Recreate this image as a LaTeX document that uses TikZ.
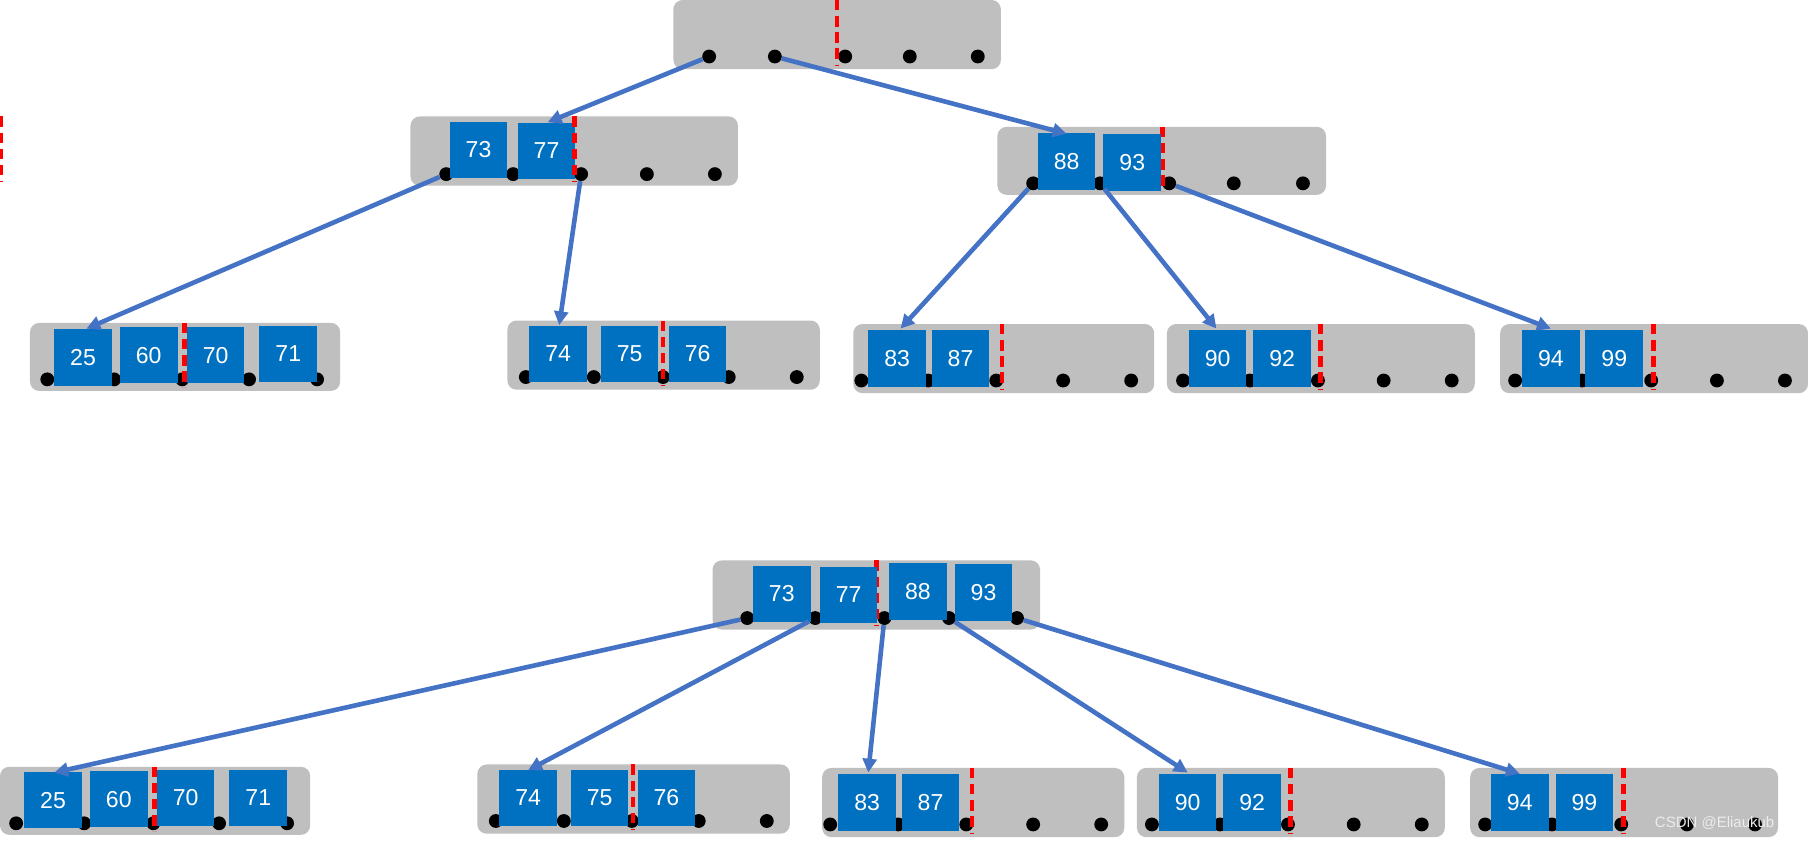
\documentclass[tikz,border=0pt]{standalone}
\usepackage{fontspec}
\setmainfont{Liberation Sans}
\usetikzlibrary{arrows.meta}
\definecolor{gbg}{HTML}{BFBFBF}
\definecolor{kb}{HTML}{0070C0}
\definecolor{ar}{HTML}{4472C4}
\begin{document}
\begin{tikzpicture}[x=1pt,y=-1pt,
  bg/.style={fill=gbg,rounded corners=8pt},
  key/.style={fill=kb,minimum width=50pt,minimum height=49pt,inner sep=0,text=white,font=\fontsize{20}{20}\selectfont},
  dot/.style={fill=black,circle,inner sep=0,minimum size=12pt},
  red/.style={draw=red,line width=4pt,dash pattern=on 9pt off 5pt},
  arr/.style={draw=ar,line width=4pt,-{Triangle[length=12pt,width=12pt]}}]
\useasboundingbox (0,0) rectangle (1568,729);
% node macro: name, x1,x2,y1,y2, dots y, dots list, red x
\newcommand\gnode[8]{%
  \fill[bg] (#2,#4) rectangle (#3,#5);
  \foreach \d [count=\i] in {#7} \node[dot] (#1d\i) at (\d,#6) {};
  \draw[red] (#8,#4) -- (#8,#5-3);}
\newcommand\kbox[4]{\node[key] (#1) at (#2,#3) {#4};}
% top tree
\gnode{r}{584}{868}{0}{60}{49}{615,672,733,789,848}{726}
\gnode{a}{356}{640}{101}{161}{151}{387,445,504,561,620}{}
\kbox{k73}{415}{130}{73}\kbox{k77}{474}{131}{77}
\draw[red] (498,101)--(498,158);
\gnode{b}{865}{1150}{110}{169}{159}{896,954,1014,1070,1130}{1008}
\kbox{k88}{925}{140}{88}\kbox{k93}{982}{141}{93}
\gnode{c}{26}{295}{280}{339}{329}{41,99,158,216,275}{160}
\kbox{k25}{72}{310}{25}\kbox{k60}{129}{308}{60}\kbox{k70}{187}{308}{70}\kbox{k71}{250}{307}{71}
\gnode{d}{440}{711}{278}{338}{327}{456,515,575,632,691}{575}
\kbox{k74}{484}{307}{74}\kbox{k75}{546}{307}{75}\kbox{k76}{605}{307}{76}
\gnode{e}{740}{1001}{281}{341}{330}{747,805,864,922,981}{869}
\kbox{k83}{778}{311}{83}\kbox{k87}{833}{311}{87}
\gnode{f}{1012}{1279}{281}{341}{330}{1026,1084,1143,1200,1259}{1145}
\kbox{k90}{1056}{311}{90}\kbox{k92}{1112}{311}{92}
\gnode{g}{1301}{1568}{281}{341}{330}{1314,1372,1432,1489,1548}{1434}
\kbox{k94}{1345}{311}{94}\kbox{k99}{1400}{311}{99}
\coordinate (t1) at (475,106); \coordinate (t2) at (925,116);
\draw[arr] (rd1) -- (t1); \draw[arr] (rd2) -- (t2);
\coordinate (t3) at (75,285); \coordinate (t4) at (485,282);
\coordinate (t5) at (781,285); \coordinate (t6) at (1055,285); \coordinate (t7) at (1345,285);
\draw[arr] (ad1) -- (t3); \draw[arr] (ad3) -- (t4);
\draw[arr] (bd1) -- (t5); \draw[arr] (bd2) -- (t6); \draw[arr] (bd3) -- (t7);
% bottom tree
\gnode{R}{618}{902}{486}{546}{536}{648,707,767,823,882}{760}
\kbox{K73}{678}{515}{73}\kbox{K77}{736}{516}{77}\kbox{K88}{796}{513}{88}\kbox{K93}{853}{514}{93}
\gnode{C}{0}{269}{665}{724}{714}{14,73,133,190,249}{134}
\kbox{K25}{46}{694}{25}\kbox{K60}{103}{693}{60}\kbox{K70}{161}{692}{70}\kbox{K71}{224}{692}{71}
\gnode{D}{414}{685}{663}{723}{712}{430,489,548,606,665}{549}
\kbox{K74}{458}{692}{74}\kbox{K75}{520}{692}{75}\kbox{K76}{578}{692}{76}
\gnode{E}{713}{975}{666}{726}{715}{720,779,838,896,955}{843}
\kbox{K83}{752}{696}{83}\kbox{K87}{807}{696}{87}
\gnode{F}{986}{1253}{666}{726}{715}{999,1058,1117,1174,1233}{1119}
\kbox{K90}{1030}{696}{90}\kbox{K92}{1086}{696}{92}
\gnode{G}{1275}{1542}{666}{726}{715}{1288,1346,1406,1463,1522}{1408}
\kbox{K94}{1318}{696}{94}\kbox{K99}{1374}{696}{99}
\coordinate (u1) at (47,670); \coordinate (u2) at (458,668); \coordinate (u3) at (753,670);
\coordinate (u4) at (1030,670); \coordinate (u5) at (1318,671);
\draw[arr] (Rd1) -- (u1); \draw[arr] (Rd2) -- (u2); \draw[arr] (Rd3) -- (u3);
\draw[arr] (Rd4) -- (u4); \draw[arr] (Rd5) -- (u5);
\node[text=white!85!gray,font=\fontsize{13}{13}\selectfont] (wm) at (1487,714) {CSDN @Eliaukub};
\end{tikzpicture}
\end{document}
